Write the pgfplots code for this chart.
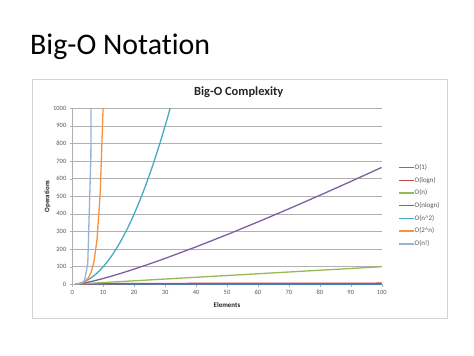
\documentclass[border=0pt]{standalone}
\usepackage{pgfplots}
\pgfplotsset{compat=1.18}
\usepackage{fontspec}
\setmainfont[Ligatures=NoCommon]{Carlito}
\definecolor{cO1}{HTML}{4A7EBB}
\definecolor{cLog}{HTML}{BE4B48}
\definecolor{cN}{HTML}{98B954}
\definecolor{cNlog}{HTML}{7D60A0}
\definecolor{cN2}{HTML}{46AAC5}
\definecolor{c2n}{HTML}{F69240}
\definecolor{cFac}{HTML}{95B3D7}
\definecolor{gridc}{HTML}{B0B0B0}
\definecolor{tickc}{HTML}{595959}
\begin{document}
\begin{tikzpicture}[x=1bp,y=-1bp]
\fill[white] (0,0) rectangle (474,355);
\draw[gray!35, line width=0.8bp] (32,79) rectangle (447,318);
\node[anchor=base west, inner sep=0, font=\fontsize{30}{34}\selectfont] at (30,54) {Big-O Notation};
\begin{axis}[
  at={(72.3bp,-284.3bp)}, anchor=south west,
  scale only axis, width=309.4bp, height=176bp,
  xmin=0, xmax=100, ymin=0, ymax=1000,
  xtick={0,10,...,100}, ytick={0,100,...,1000},
  axis lines*=left, axis line style={draw=gridc, -},
  ymajorgrids, grid style={draw=gridc, line width=0.6bp},
  tick style={draw=gridc}, tick align=outside, major tick length=2.5bp,
  tick label style={font=\fontsize{6.5}{7}\selectfont, text=tickc},
  /pgf/number format/assume math mode=true,
  /pgf/number format/1000 sep={},
  title={Big-O Complexity},
  every axis title/.style={at={(axis description cs:0.538,1.093)}, anchor=center, font=\bfseries\fontsize{12.5}{14}\selectfont, text=black!85},
  xlabel={Elements}, ylabel={Operations},
  every axis x label/.style={at={(axis description cs:0.5,-0.118)}, anchor=center, font=\bfseries\fontsize{7}{8}\selectfont, text=black!85},
  every axis y label/.style={at={(axis description cs:-0.08,0.5)}, rotate=90, anchor=center, font=\bfseries\fontsize{7}{8}\selectfont, text=black!85},
  legend style={at={(axis description cs:1.053,0.70)}, anchor=north west, draw=none, fill=none, inner sep=0pt,
    font=\fontsize{7}{8}\selectfont, row sep=0pt,
    nodes={inner sep=0pt, minimum height=12.7bp, anchor=west}},
  legend cell align=left,
  legend image code/.code={\draw[#1, line width=1.4bp] (0bp,0bp) -- (15bp,0bp);},
  every axis plot/.append style={line width=1.3bp, no markers},
]
\addplot[cO1] coordinates {(1,1) (100,1)};
\addlegendentry{\textcolor{tickc}{O(1)}}
\addplot[cLog] coordinates {(1,0) (2,1) (3,1.585) (4,2) (6,2.585) (8,3) (12,3.585) (16,4) (24,4.585) (32,5) (48,5.585) (64,6) (80,6.32) (100,6.64)};
\addlegendentry{\textcolor{tickc}{O(logn)}}
\addplot[cN] coordinates {(1,1) (100,100)};
\addlegendentry{\textcolor{tickc}{O(n)}}
\addplot[cNlog] coordinates {(1,0) (2,2) (3,4.75) (4,8) (6,15.51) (8,24) (10,33.22) (12,43.02) (16,64) (20,86.44) (25,116.10) (30,147.21) (40,212.88) (50,282.19) (60,354.41) (70,429.05) (80,505.75) (90,584.24) (100,664.39)};
\addlegendentry{\textcolor{tickc}{O(nlogn)}}
\addplot[cN2] coordinates {(1,1) (2,4) (3,9) (4,16) (5,25) (6,36) (7,49) (8,64) (9,81) (10,100) (11,121) (12,144) (13,169) (14,196) (15,225) (16,256) (17,289) (18,324) (19,361) (20,400) (21,441) (22,484) (23,529) (24,576) (25,625) (26,676) (27,729) (28,784) (29,841) (30,900) (31,961) (32,1024)};
\addlegendentry{\textcolor{tickc}{O(n\^{}2)}}
\addplot[c2n] coordinates {(1,2) (2,4) (3,8) (4,16) (5,32) (6,64) (7,128) (8,256) (9,512) (10,1024) (11,2048)};
\addlegendentry{\textcolor{tickc}{O(2\^{}n)}}
\addplot[cFac] coordinates {(1,1) (2,2) (3,6) (4,24) (5,120) (6,720) (7,5040)};
\addlegendentry{\textcolor{tickc}{O(n!)}}
\end{axis}
\end{tikzpicture}
\end{document}
